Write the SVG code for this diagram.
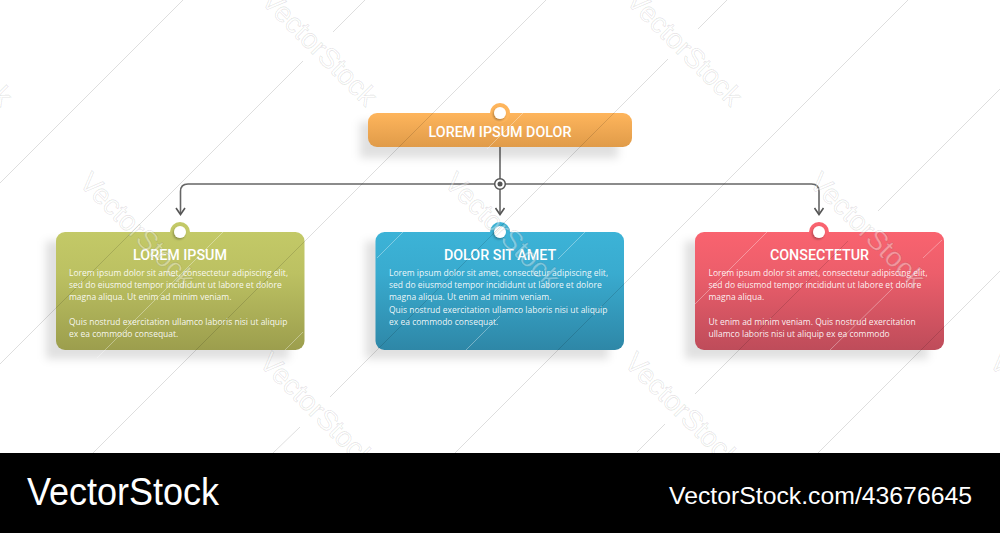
<svg xmlns="http://www.w3.org/2000/svg" width="1000" height="533" viewBox="0 0 1000 533">
<style>
.title{font-family:Roboto,"Liberation Sans",sans-serif;font-weight:500;font-size:14.300px;fill:#fff;text-anchor:middle}
.body{font-family:"Open Sans","Noto Sans",sans-serif;font-size:8.500px;fill:#fff;fill-opacity:.92}
.conn{fill:none;stroke:#666;stroke-width:1.6}
.wm{font-family:"Liberation Sans",Arial,sans-serif;font-size:28px;fill:#fff;fill-opacity:.35;stroke:#000;stroke-opacity:.1;stroke-width:.9}
.dk{stroke:#000;stroke-opacity:.13;stroke-width:1;fill:none}
.wt{stroke:#fff;stroke-opacity:.35;stroke-width:1;fill:none}
.foot{font-family:"Liberation Sans",Arial,sans-serif;fill:#fff}
.dot{fill:#fff;filter:url(#ds)}
.sh{fill:#000;fill-opacity:.12;filter:url(#blur)}
</style>
<defs>
<linearGradient id="gO" x1="0" y1="0" x2="0" y2="1"><stop offset="0" stop-color="#feb55c"/><stop offset="1" stop-color="#e09b49"/></linearGradient>
<linearGradient id="gG" x1="0" y1="0" x2="0" y2="1"><stop offset="0" stop-color="#c3c967"/><stop offset=".35" stop-color="#bcc162"/><stop offset="1" stop-color="#9c9e4d"/></linearGradient>
<linearGradient id="gB" x1="0" y1="0" x2="0" y2="1"><stop offset="0" stop-color="#3cb3d7"/><stop offset=".35" stop-color="#39abcf"/><stop offset="1" stop-color="#2e87a7"/></linearGradient>
<linearGradient id="gR" x1="0" y1="0" x2="0" y2="1"><stop offset="0" stop-color="#f9636f"/><stop offset=".35" stop-color="#ec5e6b"/><stop offset="1" stop-color="#be4c5a"/></linearGradient>
<filter id="blur" x="-20%" y="-40%" width="140%" height="180%"><feGaussianBlur stdDeviation="4.500"/></filter>
<filter id="ds" x="-50%" y="-50%" width="200%" height="200%"><feDropShadow dx="-1" dy="1.500" stdDeviation="1.200" flood-color="#000" flood-opacity=".3"/></filter>
</defs>
<rect width="1000" height="533" fill="#fff"/>

<g id="connectors">
<path class="conn" d="M500 147V214"/>
<path class="conn" d="M500 184H188Q180.500 184 180.500 191.500V214"/>
<path class="conn" d="M500 184H811.500Q819 184 819 191.500V214"/>
<path d="M176 208L180.500 214.500L185 208M495.500 208L500 214.500L504.500 208M814.500 208L819 214.500L823.500 208" fill="none" stroke="#555" stroke-width="1.600"/>
<circle cx="500" cy="184" r="5.300" fill="#fff" stroke="#555" stroke-width="1.500"/>
<circle cx="500" cy="184" r="2.500" fill="#555"/>
</g>

<g id="node-top">
<rect class="sh" x="360" y="122" width="258" height="36"/>
<rect x="368" y="113" width="264" height="34" rx="9" fill="url(#gO)"/>
<circle cx="500" cy="113" r="10" fill="#feb55c"/>
<circle class="dot" cx="500" cy="113" r="6"/>
<text class="title" x="500" y="136.500">LOREM IPSUM DOLOR</text>
</g>

<g id="node-left">
<rect class="sh" x="46" y="241" width="243" height="118"/>
<rect x="56" y="232" width="248.500" height="118" rx="9" fill="url(#gG)"/>
<circle cx="180" cy="232" r="10" fill="#c3c967"/>
<circle class="dot" cx="180" cy="232" r="6"/>
<text class="title" x="180" y="260">LOREM IPSUM</text>
<text class="body" x="69" y="276">Lorem ipsum dolor sit amet, consectetur adipiscing elit,</text>
<text class="body" x="69" y="288">sed do eiusmod tempor incididunt ut labore et dolore</text>
<text class="body" x="69" y="300">magna aliqua. Ut enim ad minim veniam.</text>
<text class="body" x="69" y="325">Quis nostrud exercitation ullamco laboris nisi ut aliquip</text>
<text class="body" x="69" y="337">ex ea commodo consequat.</text>
</g>

<g id="node-center">
<rect class="sh" x="365.500" y="241" width="243" height="118"/>
<rect x="375.500" y="232" width="248.500" height="118" rx="9" fill="url(#gB)"/>
<circle cx="500" cy="232" r="10" fill="#3cb3d7"/>
<circle class="dot" cx="500" cy="232" r="6"/>
<text class="title" x="500" y="260">DOLOR SIT AMET</text>
<text class="body" x="389" y="276">Lorem ipsum dolor sit amet, consectetur adipiscing elit,</text>
<text class="body" x="389" y="288">sed do eiusmod tempor incididunt ut labore et dolore</text>
<text class="body" x="389" y="300">magna aliqua. Ut enim ad minim veniam.</text>
<text class="body" x="389" y="313">Quis nostrud exercitation ullamco laboris nisi ut aliquip</text>
<text class="body" x="389" y="325">ex ea commodo consequat.</text>
</g>

<g id="node-right">
<rect class="sh" x="685" y="241" width="243" height="118"/>
<rect x="695" y="232" width="249" height="118" rx="9" fill="url(#gR)"/>
<circle cx="819" cy="232" r="10" fill="#f9636f"/>
<circle class="dot" cx="819" cy="232" r="6"/>
<text class="title" x="819.500" y="260">CONSECTETUR</text>
<text class="body" x="708.500" y="276">Lorem ipsum dolor sit amet, consectetur adipiscing elit,</text>
<text class="body" x="708.500" y="288">sed do eiusmod tempor incididunt ut labore et dolore</text>
<text class="body" x="708.500" y="300">magna aliqua.</text>
<text class="body" x="708.500" y="325">Ut enim ad minim veniam. Quis nostrud exercitation</text>
<text class="body" x="708.500" y="337">ullamco laboris nisi ut aliquip ex ea commodo</text>
</g>

<g id="watermark">
<path class="dk" d="M183 0L0 183M365 0L333 32M303 61L0 364M546 0L93 453M727 0L698 29M668 59L330 397M300 427L273 453M908 0L455 453M1000 89L878 211M848 241L695 394M665 424L637 452M1000 271L818 453"/>
<path class="wt" d="M523 113L487 149M223 232L97 358M403 232L377 258M303 332L285 350M585 232L558 259M500 316L466 350M767 232L695 304M893 288L830 350M942 240L923 258"/>
<text class="wm" transform="translate(-105 2) rotate(45)">VectorStock</text>
<text class="wm" transform="translate(260 2) rotate(45)">VectorStock</text>
<text class="wm" transform="translate(625 2) rotate(45)">VectorStock</text>
<text class="wm" transform="translate(78 184) rotate(45)">VectorStock</text>
<text class="wm" transform="translate(443 184) rotate(45)">VectorStock</text>
<text class="wm" transform="translate(808 184) rotate(45)">VectorStock</text>
<text class="wm" transform="translate(258 364) rotate(45)">VectorStock</text>
<text class="wm" transform="translate(623 364) rotate(45)">VectorStock</text>
<text class="wm" transform="translate(988 364) rotate(45)">VectorStock</text>
</g>

<g id="footer">
<rect y="453" width="1000" height="80" fill="#000"/>
<text class="foot" x="27" y="505" font-size="38" textLength="192" lengthAdjust="spacingAndGlyphs">VectorStock</text>
<text class="foot" x="669" y="504" font-size="24" textLength="303" lengthAdjust="spacingAndGlyphs">VectorStock.com/43676645</text>
</g>
</svg>
